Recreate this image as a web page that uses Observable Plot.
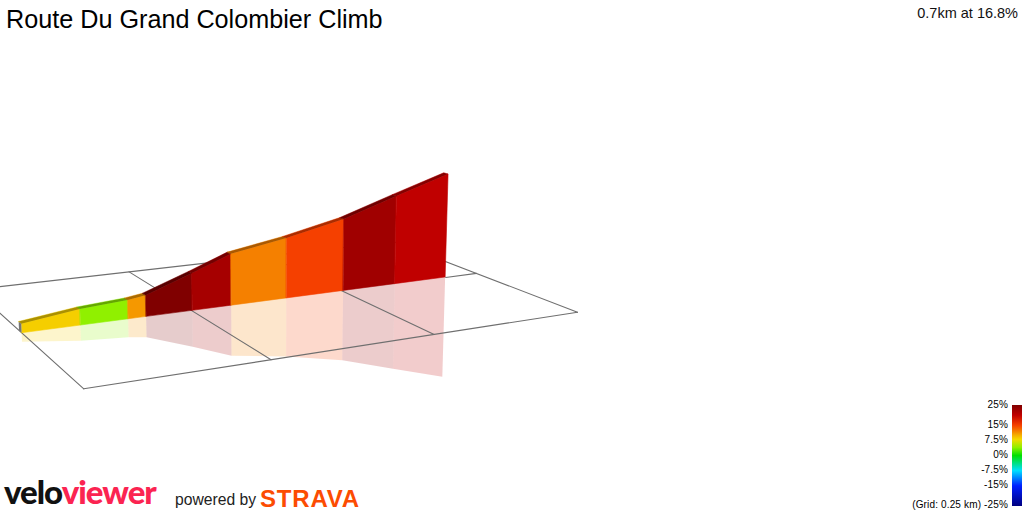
<!DOCTYPE html>
<html><head><meta charset="utf-8">
<script src="https://cdn.jsdelivr.net/npm/d3@7"></script>
<script src="https://cdn.jsdelivr.net/npm/@observablehq/plot@0.6"></script>
<style>
body{margin:0;background:#fff;font-family:"Liberation Sans",Arial,sans-serif;}
#wrap{position:relative;width:1024px;height:512px;overflow:hidden;background:#fff;}
#wrap svg{position:absolute;left:0;top:0;}
.abs{position:absolute;white-space:nowrap;line-height:1;}
</style></head><body><div id="wrap"></div>
<script>
// ---------- data ----------
const segmentName = "Route Du Grand Colombier Climb";
const summaryText = "0.7km at 16.8%";
const distanceKm = [0, 0.083, 0.153, 0.180, 0.251, 0.313, 0.404, 0.502, 0.595, 0.690];
const elevationM = [9.7, 17.4, 20.8, 23.6, 41.9, 58.9, 70.0, 85.2, 106.4, 127.3]; // above profile base
const gradientPct = [8.5, 4, 11, 25, 22, 12, 15, 22.5, 20];                           // per segment
const gridKm = 0.25;
const gridAlongKm = [0, 0.25, 0.5, 0.75];
const gridAcrossKm = [0, 0.25, 0.5];
const colorStops = [-25, -15, -7.5, 0, 4, 8, 10, 12, 15, 20, 25];
const colorRamp = ["#000080", "#0020ff", "#00e0ff", "#00e000", "#90f000", "#f5d800", "#f5b000", "#f58000", "#f54000", "#c00000", "#800000"];
const legendTicks = [25, 15, 7.5, 0, -7.5, -15, -25];

// ---------- 3D view (camera calibration) ----------
const view = {
  // ground-plane points (along km, across km) and where the camera puts them on screen
  groundCorners: [[0, 0, -26.9, 289.1], [0, 0.5, 83.3, 388.3], [0.75, 0.5, 577, 311.7], [0.75, 0, 393.3, 241.2]],
  verticalVanish: [270, 6470],
  heightScale: 1.516e-4,
  routeAcross: 0.25,
  ribbonDepth: 0.012
};

function homography(pts) {
  const A = [], b = [];
  for (const [u, v, x, y] of pts) {
    A.push([u, v, 1, 0, 0, 0, -u * x, -v * x]); b.push(x);
    A.push([0, 0, 0, u, v, 1, -u * y, -v * y]); b.push(y);
  }
  const n = 8;
  for (let c = 0; c < n; c++) {
    let p = c;
    for (let r = c + 1; r < n; r++) if (Math.abs(A[r][c]) > Math.abs(A[p][c])) p = r;
    [A[c], A[p]] = [A[p], A[c]]; [b[c], b[p]] = [b[p], b[c]];
    for (let r = 0; r < n; r++) {
      if (r === c) continue;
      const f = A[r][c] / A[c][c];
      for (let k = c; k < n; k++) A[r][k] -= f * A[c][k];
      b[r] -= f * b[c];
    }
  }
  const h = b.map((v, i) => v / A[i][i]);
  return [[h[0], h[1], h[2]], [h[3], h[4], h[5]], [h[6], h[7], 1]];
}
const H = homography(view.groundCorners);
function ground(d, z) {
  const X = H[0][0] * d + H[0][1] * z + H[0][2];
  const Y = H[1][0] * d + H[1][1] * z + H[1][2];
  const W = H[2][0] * d + H[2][1] * z + H[2][2];
  return {x: X / W, y: Y / W, w: W};
}
const wRef = ground(0, view.routeAcross).w;
function project(d, z, e) {
  const g = ground(d, z);
  const u = e * view.heightScale / (g.w / wRef);
  const f = -u / (1 - u);
  const [vx, vy] = view.verticalVanish;
  return [g.x + f * (vx - g.x), g.y + f * (vy - g.y)];
}

// ---------- build tables ----------
const zF = view.routeAcross, zB = view.routeAcross - view.ribbonDepth;
const faceRows = [], reflRows = [], topRows = [];
gradientPct.forEach((g, i) => {
  for (const j of [i, i + 1]) {
    const d = distanceKm[j], e = elevationM[j];
    const [bx, by] = project(d, zF, 0);
    const [tx, ty] = project(d, zF, e);
    const [rx, ry] = project(d, zF, -e);
    const [kx, ky] = project(d, zB, e);
    faceRows.push({seg: i, grad: g, x1: bx, y1: by, x2: tx, y2: ty});
    reflRows.push({seg: i, grad: g, x1: bx, y1: by, x2: rx, y2: ry});
    topRows.push({seg: i, grad: g, x1: tx, y1: ty, x2: kx, y2: ky});
  }
});
const capRows = [zF, zB].map(z => {
  const [bx, by] = project(distanceKm[0], z, 0);
  const [tx, ty] = project(distanceKm[0], z, elevationM[0]);
  return {x1: bx, y1: by, x2: tx, y2: ty};
});
const gridRows = [];
const maxAlong = d3.max(gridAlongKm), maxAcross = d3.max(gridAcrossKm);
gridAlongKm.forEach((d, i) => {
  for (const z of [0, maxAcross]) { const [x, y] = project(d, z, 0); gridRows.push({id: "a" + i, x, y}); }
});
gridAcrossKm.forEach((z, i) => {
  // the middle line runs under the profile, so it is only seen past the route's end
  const start = z === view.routeAcross ? d3.max(distanceKm) : 0;
  for (const d of [start, maxAlong]) { const [x, y] = project(d, z, 0); gridRows.push({id: "c" + i, x, y}); }
});

// ---------- chart ----------
const chart = Plot.plot({
  width: 1024, height: 512, margin: 0,
  x: {type: "identity", axis: null},
  y: {type: "identity", axis: null},
  color: {type: "linear", domain: colorStops, range: colorRamp, interpolate: "rgb"},
  style: {background: "transparent"},
  marks: [
    Plot.area(reflRows, {x1: "x1", y1: "y1", x2: "x2", y2: "y2", z: "seg", fill: "grad", fillOpacity: 0.2}),
    Plot.line(gridRows, {x: "x", y: "y", z: "id", stroke: "#6f6f6f", strokeWidth: 1.1}),
    Plot.area(faceRows, {x1: "x1", y1: "y1", x2: "x2", y2: "y2", z: "seg", fill: "grad", stroke: "grad", strokeWidth: 0.6}),
    Plot.area(topRows, {x1: "x1", y1: "y1", x2: "x2", y2: "y2", z: "seg", fill: "grad", stroke: "grad", strokeWidth: 0.5}),
    Plot.area(topRows, {x1: "x1", y1: "y1", x2: "x2", y2: "y2", z: "seg", fill: "#000", fillOpacity: 0.3}),
    Plot.area(capRows, {x1: "x1", y1: "y1", x2: "x2", y2: "y2", fill: "#767676"})
  ]
});
const wrap = document.getElementById("wrap");
wrap.appendChild(chart);

function addText(txt, css) {
  const el = document.createElement("div");
  el.className = "abs";
  el.textContent = txt;
  Object.assign(el.style, css);
  wrap.appendChild(el);
  return el;
}
addText(segmentName, {left: "6px", top: "7px", fontSize: "25.2px", color: "#000"});
addText(summaryText, {right: "6px", top: "6px", fontSize: "14.5px", color: "#111"});

// legend
const ly = d3.scaleLinear([25, -25], [405, 505]);
const bar = document.createElement("div");
bar.className = "abs";
const stopsCss = colorStops.map((v, i) => `${colorRamp[i]} ${((25 - v) / 50 * 100).toFixed(2)}%`).reverse().join(",");
Object.assign(bar.style, {left: "1012px", top: "405px", width: "10px", height: "101px", background: `linear-gradient(to bottom, ${stopsCss})`});
wrap.appendChild(bar);
legendTicks.forEach(v => {
  const label = (v === d3.min(legendTicks) ? `(Grid: ${gridKm} km) ` : "") + v + "%";
  addText(label, {right: "16px", top: (ly(v) - 5) + "px", fontSize: "10px", color: "#000", letterSpacing: "0.15px"});
});

// logos
const logo = addText("", {left: "4px", bottom: "1px", fontSize: "33px", lineHeight: "normal", fontWeight: "900", letterSpacing: "-1px", fontFamily: "Lato, 'Liberation Sans', Arial, sans-serif"});
logo.innerHTML = '<span style="color:#111">velo</span><span style="color:#fb2451">viewer</span>';
addText("powered by", {left: "175px", top: "492px", fontSize: "15.7px", lineHeight: "16px", color: "#222"});
addText("STRAVA", {left: "260px", top: "490px", fontSize: "24px", lineHeight: "18px", fontWeight: "900", color: "#fc4c02", letterSpacing: "0.8px"});
</script></body></html>
